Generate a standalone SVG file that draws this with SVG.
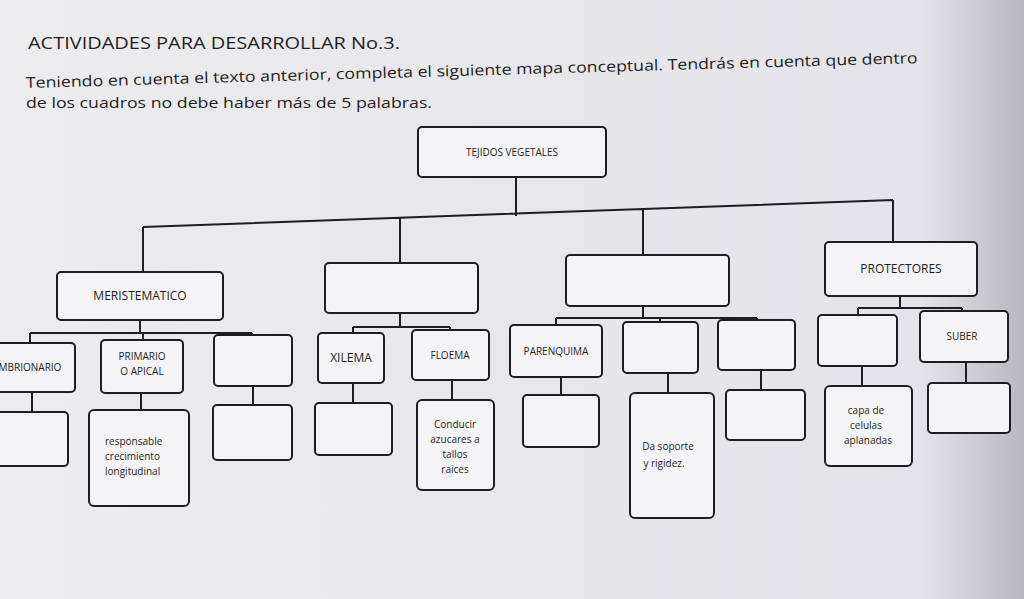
<svg xmlns="http://www.w3.org/2000/svg" width="1024" height="599" viewBox="0 0 1024 599">
<style>
.b{fill:#f4f4f6;stroke:#1e1e22;stroke-width:2}
.c{fill:none;stroke:#1e1e22;stroke-width:2}
text{font-family:"Open Sans","DejaVu Sans",sans-serif;fill:#1e1e22}
.s{font-size:10px;text-anchor:middle}
.m{font-size:12px;text-anchor:middle}
</style>
<defs><linearGradient id="bg" x1="0" x2="1"><stop offset="0" stop-color="#ececef"/><stop offset="0.9" stop-color="#e4e4e8"/><stop offset="1" stop-color="#b8b8bd"/></linearGradient></defs>
<rect width="1024" height="599" fill="url(#bg)"/>
<text x="28" y="49" font-size="16" textLength="372" lengthAdjust="spacingAndGlyphs">ACTIVIDADES PARA DESARROLLAR No.3.</text>
<text x="26" y="88" font-size="15" textLength="892" lengthAdjust="spacingAndGlyphs" transform="rotate(-1.6 26 88)">Teniendo en cuenta el texto anterior, completa el siguiente mapa conceptual. Tendrás en cuenta que dentro</text>
<text x="26" y="108" font-size="15" textLength="406" lengthAdjust="spacingAndGlyphs">de los cuadros no debe haber más de 5 palabras.</text>
<g id="connectors">
<path class="c" d="M516 177V216M143 227L893 200M143 227V272M400 218V263M643 210V256M893 200V243"/>
<path class="c" d="M140 320V333M30 333H252M30 333V343M143 333V340M252 333V335"/>
<path class="c" d="M400 313V327M353 327H450M353 327V333M450 327V330"/>
<path class="c" d="M643 306V318M556 318H757M556 318V325M660 318V322M757 318V320"/>
<path class="c" d="M900 296V308M858 308H962M858 308V315M962 308V311"/>
<path class="c" d="M32 392V412M141 393V410M253 386V405M353 383V403M452 380V400M561 377V395M668 373V393M761 370V390M862 366V386M966 362V383"/>
</g>
<g id="n0"><rect class="b" x="418" y="127" width="188" height="50" rx="4"/><text class="s" x="512" y="156">TEJIDOS VEGETALES</text></g>
<g id="n1"><rect class="b" x="57" y="272" width="166" height="48" rx="4"/><text class="m" x="140" y="300">MERISTEMATICO</text></g>
<g id="n2"><rect class="b" x="325" y="263" width="153" height="50" rx="4"/></g>
<g id="n3"><rect class="b" x="566" y="255" width="163" height="51" rx="4"/></g>
<g id="n4"><rect class="b" x="825" y="242" width="152" height="54" rx="4"/><text class="m" x="901" y="273">PROTECTORES</text></g>
<g id="n5"><rect class="b" x="-10" y="343" width="85" height="49" rx="4"/><text class="s" x="30" y="371" font-size="9">MBRIONARIO</text></g>
<g id="n6"><rect class="b" x="101" y="340" width="82" height="53" rx="4"/><text class="s" x="142" y="360">PRIMARIO</text><text class="s" x="142" y="375">O APICAL</text></g>
<g id="n7"><rect class="b" x="214" y="335" width="78" height="51" rx="4"/></g>
<g id="n8"><rect class="b" x="318" y="333" width="66" height="50" rx="4"/><text class="m" x="351" y="362">XILEMA</text></g>
<g id="n9"><rect class="b" x="412" y="330" width="77" height="50" rx="4"/><text class="s" x="450" y="359">FLOEMA</text></g>
<g id="n10"><rect class="b" x="510" y="325" width="92" height="52" rx="4"/><text class="s" x="556" y="355">PARENQUIMA</text></g>
<g id="n11"><rect class="b" x="623" y="322" width="75" height="51" rx="4"/></g>
<g id="n12"><rect class="b" x="718" y="320" width="77" height="50" rx="4"/></g>
<g id="n13"><rect class="b" x="818" y="315" width="79" height="51" rx="4"/></g>
<g id="n14"><rect class="b" x="920" y="311" width="88" height="51" rx="4"/><text class="s" x="962" y="340">SUBER</text></g>
<g id="n15"><rect class="b" x="-10" y="412" width="78" height="54" rx="4"/></g>
<g id="n16"><rect class="b" x="89" y="410" width="100" height="96" rx="5"/><text x="105" y="445" font-size="10">responsable</text><text x="105" y="460" font-size="10">crecimiento</text><text x="105" y="475" font-size="10">longitudinal</text></g>
<g id="n17"><rect class="b" x="213" y="405" width="79" height="55" rx="4"/></g>
<g id="n18"><rect class="b" x="315" y="403" width="77" height="52" rx="4"/></g>
<g id="n19"><rect class="b" x="417" y="400" width="77" height="90" rx="5"/><text class="s" x="455" y="428">Conducir</text><text class="s" x="455" y="443">azucares a</text><text class="s" x="455" y="458">tallos</text><text class="s" x="455" y="473">raices</text></g>
<g id="n20"><rect class="b" x="523" y="395" width="76" height="52" rx="4"/></g>
<g id="n21"><rect class="b" x="630" y="393" width="84" height="125" rx="5"/><text class="s" x="668" y="450">Da soporte</text><text class="s" x="664" y="467">y rigidez.</text></g>
<g id="n22"><rect class="b" x="726" y="390" width="79" height="50" rx="4"/></g>
<g id="n23"><rect class="b" x="825" y="386" width="87" height="80" rx="5"/><text class="s" x="866" y="414">capa de</text><text class="s" x="866" y="429">celulas</text><text class="s" x="868" y="444">aplanadas</text></g>
<g id="n24"><rect class="b" x="928" y="383" width="82" height="50" rx="4"/></g>
</svg>
